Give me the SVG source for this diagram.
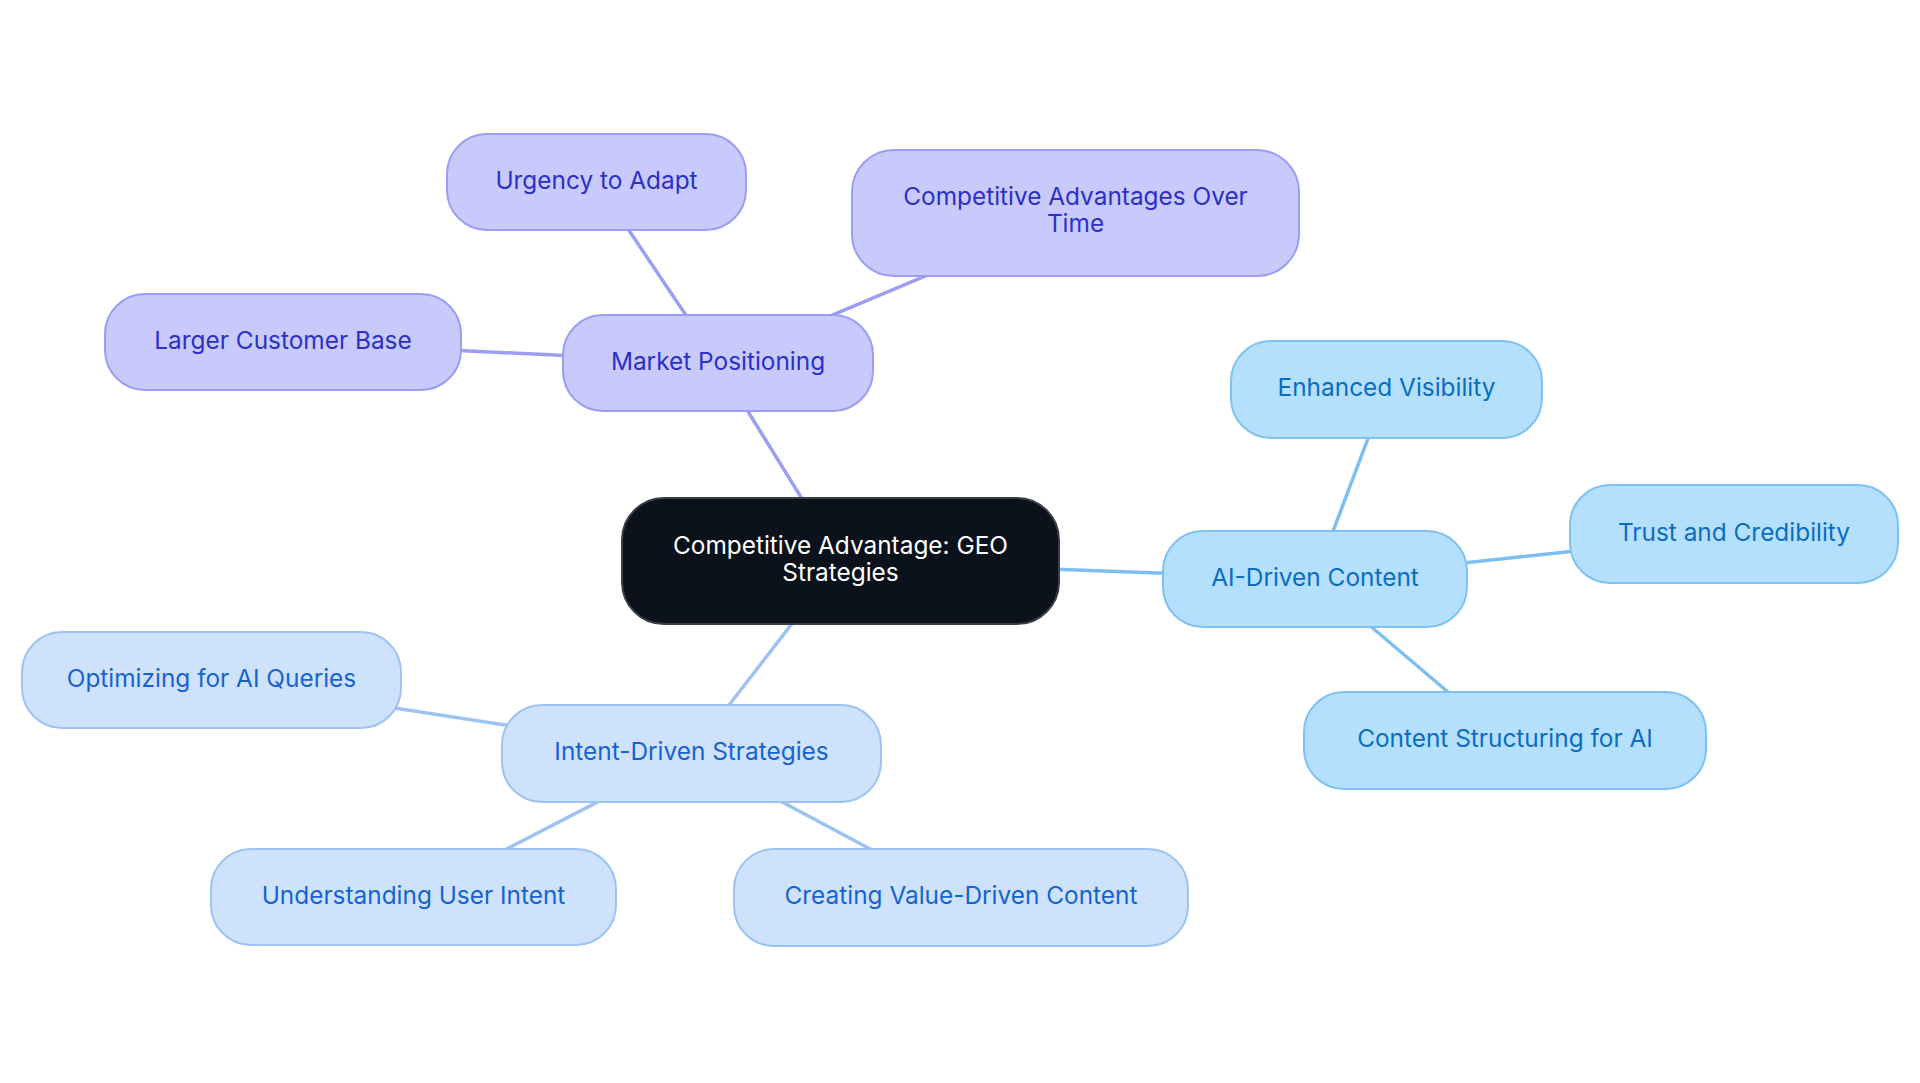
<svg xmlns="http://www.w3.org/2000/svg" width="1920" height="1083" viewBox="0 0 1920 1083">
<style>
.t{font-family:Inter,"Open Sans","Liberation Sans",sans-serif;font-size:24.4px;text-anchor:middle}
.root rect{fill:#0C121C;stroke:#3A3F47;stroke-width:2}
.root text{fill:#FFFFFF}
.mp rect{fill:#C8CAFC;stroke:#9B9DF2;stroke-width:2}
.mp text{fill:#2C30C6}
.ai rect{fill:#B4E0FD;stroke:#7FC1F0;stroke-width:2}
.ai text{fill:#0A6DC0}
.in rect{fill:#CEE3FB;stroke:#9CC3F1;stroke-width:2}
.in text{fill:#1663CF}
.lmp{stroke:#9C9EF5;stroke-width:3.5;fill:none}
.lai{stroke:#7DBFF0;stroke-width:3.5;fill:none}
.lin{stroke:#9DC3F0;stroke-width:3.5;fill:none}
</style>
<rect width="1920" height="1083" fill="#FFFFFF"/>
<g id="connectors">
<line class="lmp" x1="840.5" y1="561" x2="718" y2="363"/>
<line class="lmp" x1="718" y1="363" x2="596.5" y2="182"/>
<line class="lmp" x1="718" y1="363" x2="1075.5" y2="213"/>
<line class="lmp" x1="718" y1="363" x2="283" y2="342"/>
<line class="lai" x1="840.5" y1="561" x2="1315" y2="579"/>
<line class="lai" x1="1315" y1="579" x2="1386.5" y2="389.5"/>
<line class="lai" x1="1315" y1="579" x2="1734" y2="534"/>
<line class="lai" x1="1315" y1="579" x2="1505" y2="740.5"/>
<line class="lin" x1="840.5" y1="561" x2="691.5" y2="753.5"/>
<line class="lin" x1="691.5" y1="753.5" x2="211.5" y2="680"/>
<line class="lin" x1="691.5" y1="753.5" x2="413.5" y2="897"/>
<line class="lin" x1="691.5" y1="753.5" x2="961" y2="897.5"/>
</g>
<g id="root" class="root">
<rect x="622" y="498" width="437" height="126" rx="42"/>
<text class="t" x="840.5" y="554">Competitive Advantage: GEO</text>
<text class="t" x="840.5" y="581">Strategies</text>
</g>
<g id="market-positioning" class="mp">
<rect x="563" y="315" width="310" height="96" rx="40"/>
<text class="t" x="718" y="370">Market Positioning</text>
</g>
<g id="urgency-to-adapt" class="mp">
<rect x="447" y="134" width="299" height="96" rx="40"/>
<text class="t" x="596.5" y="189">Urgency to Adapt</text>
</g>
<g id="competitive-advantages-over-time" class="mp">
<rect x="852" y="150" width="447" height="126" rx="42"/>
<text class="t" x="1075.5" y="205">Competitive Advantages Over</text>
<text class="t" x="1075.5" y="232">Time</text>
</g>
<g id="larger-customer-base" class="mp">
<rect x="105" y="294" width="356" height="96" rx="40"/>
<text class="t" x="283" y="349">Larger Customer Base</text>
</g>
<g id="ai-driven-content" class="ai">
<rect x="1163" y="531" width="304" height="96" rx="40"/>
<text class="t" x="1315" y="586">AI-Driven Content</text>
</g>
<g id="enhanced-visibility" class="ai">
<rect x="1231" y="341" width="311" height="97" rx="40"/>
<text class="t" x="1386.5" y="396">Enhanced Visibility</text>
</g>
<g id="trust-and-credibility" class="ai">
<rect x="1570" y="485" width="328" height="98" rx="40"/>
<text class="t" x="1734" y="541">Trust and Credibility</text>
</g>
<g id="content-structuring-for-ai" class="ai">
<rect x="1304" y="692" width="402" height="97" rx="40"/>
<text class="t" x="1505" y="747">Content Structuring for AI</text>
</g>
<g id="intent-driven-strategies" class="in">
<rect x="502" y="705" width="379" height="97" rx="40"/>
<text class="t" x="691.5" y="760">Intent-Driven Strategies</text>
</g>
<g id="optimizing-for-ai-queries" class="in">
<rect x="22" y="632" width="379" height="96" rx="40"/>
<text class="t" x="211.5" y="687">Optimizing for AI Queries</text>
</g>
<g id="understanding-user-intent" class="in">
<rect x="211" y="849" width="405" height="96" rx="40"/>
<text class="t" x="413.5" y="904">Understanding User Intent</text>
</g>
<g id="creating-value-driven-content" class="in">
<rect x="734" y="849" width="454" height="97" rx="40"/>
<text class="t" x="961" y="904">Creating Value-Driven Content</text>
</g>
</svg>
